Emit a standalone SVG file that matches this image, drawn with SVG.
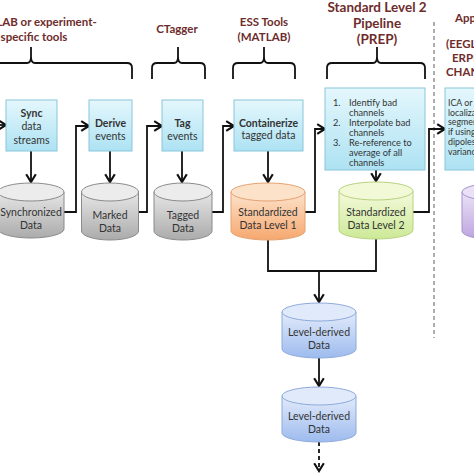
<svg xmlns="http://www.w3.org/2000/svg" width="474" height="474" viewBox="0 0 474 474">
<defs>
<linearGradient id="gBox" x1="0" y1="0" x2="0" y2="1"><stop offset="0" stop-color="#e4f7fc"/><stop offset="1" stop-color="#ade2f3"/></linearGradient>
<linearGradient id="gGray" x1="0" y1="0" x2="0" y2="1"><stop offset="0" stop-color="#e6e6e6"/><stop offset="1" stop-color="#ababab"/></linearGradient>
<linearGradient id="gOrange" x1="0" y1="0" x2="0" y2="1"><stop offset="0" stop-color="#fde3cc"/><stop offset="1" stop-color="#f6a76e"/></linearGradient>
<linearGradient id="gGreen" x1="0" y1="0" x2="0" y2="1"><stop offset="0" stop-color="#f4fadc"/><stop offset="1" stop-color="#cce996"/></linearGradient>
<linearGradient id="gPurple" x1="0" y1="0" x2="0" y2="1"><stop offset="0" stop-color="#ece2f7"/><stop offset="1" stop-color="#bca3de"/></linearGradient>
<linearGradient id="gBlue" x1="0" y1="0" x2="0" y2="1"><stop offset="0" stop-color="#e2ebfb"/><stop offset="1" stop-color="#9dbbee"/></linearGradient>
<marker id="arr" markerUnits="userSpaceOnUse" markerWidth="12" markerHeight="12" viewBox="0 0 10 10" refX="8" refY="5" orient="auto">
<path d="M1.5,1 L8,5 L1.5,9" fill="none" stroke="#111" stroke-width="1.8"/>
</marker>
</defs>
<style>
.hdr{font-family:Lato,"Liberation Sans",sans-serif;font-weight:bold;font-size:11.5px;fill:#6e2c2c;text-anchor:middle}
.hdr2{font-size:13.5px}
.brace{fill:none;stroke:#111;stroke-width:1.8}
.box{fill:url(#gBox);stroke:#8ac6da;stroke-width:1}
.t{font-family:Lato,"Liberation Sans",sans-serif;font-size:10.5px;fill:#333;text-anchor:middle}
.tb{font-weight:bold}
.ts{font-family:Lato,"Liberation Sans",sans-serif;font-size:9.2px;fill:#333}
.ti{font-family:Lato,"Liberation Sans",sans-serif;font-size:8.8px;fill:#333}
.cyl{stroke-width:1}
.conn{fill:none;stroke:#111;stroke-width:1.8}
</style>
<rect width="474" height="474" fill="#fff"/>

<g id="headers">
<text class="hdr" x="34" y="26">MATLAB or experiment-</text>
<text class="hdr" x="34" y="41">specific tools</text>
<text class="hdr" x="177" y="33">CTagger</text>
<text class="hdr" x="264" y="26">ESS Tools</text>
<text class="hdr" x="264" y="41">(MATLAB)</text>
<text class="hdr hdr2" x="377" y="12">Standard Level 2</text>
<text class="hdr hdr2" x="377" y="28">Pipeline</text>
<text class="hdr hdr2" x="377" y="44">(PREP)</text>
<text class="hdr" x="455" y="22" style="text-anchor:start">Applications</text>
<text class="hdr" x="446" y="48" style="text-anchor:start">(EEGLAB,</text>
<text class="hdr" x="452" y="62" style="text-anchor:start">ERPLAB,</text>
<text class="hdr" x="446" y="76" style="text-anchor:start">CHANNEL)</text>
</g>

<g id="braces">
<path class="brace" d="M-12,79 V68 Q-12,63 -7,63 H27 Q31,63 31,57 V47 M31,57 Q31,63 35,63 H127 Q132,63 132,68 V79"/>
<path class="brace" d="M152,79 V68 Q152,63 157,63 H174 Q178,63 178,57 V47 M178,57 Q178,63 182,63 H200 Q205,63 205,68 V79"/>
<path class="brace" d="M233,79 V68 Q233,63 238,63 H260 Q264,63 264,57 V47 M264,57 Q264,63 268,63 H290 Q295,63 295,68 V79"/>
<path class="brace" d="M327,79 V68 Q327,63 332,63 H373 Q377,63 377,57 V47 M377,57 Q377,63 381,63 H420 Q425,63 425,68 V79"/>
</g>

<line id="divider" x1="434" y1="22" x2="434" y2="338" stroke="#777" stroke-width="1.2" stroke-dasharray="4,3"/>

<g id="connectors">
<line class="conn" x1="-2" y1="125" x2="6" y2="125" marker-end="url(#arr)"/>
<line class="conn" x1="31" y1="151" x2="31" y2="182" marker-end="url(#arr)"/>
<polyline class="conn" points="64,212 76,212 76,126 89,126" marker-end="url(#arr)"/>
<line class="conn" x1="110" y1="151" x2="110" y2="182" marker-end="url(#arr)"/>
<polyline class="conn" points="139,212 147,212 147,126 162,126" marker-end="url(#arr)"/>
<line class="conn" x1="182" y1="151" x2="182" y2="182" marker-end="url(#arr)"/>
<polyline class="conn" points="212,212 223,212 223,126 234,126" marker-end="url(#arr)"/>
<line class="conn" x1="268" y1="151" x2="268" y2="182" marker-end="url(#arr)"/>
<polyline class="conn" points="305,212 315,212 315,129 325,129" marker-end="url(#arr)"/>
<line class="conn" x1="376" y1="170" x2="376" y2="181" marker-end="url(#arr)"/>
<polyline class="conn" points="413,212 429,212 429,129 445,129" marker-end="url(#arr)"/>
<polyline class="conn" points="268,240 268,271 376,271 376,239"/>
<line class="conn" x1="319" y1="271" x2="319" y2="302" marker-end="url(#arr)"/>
<line class="conn" x1="319" y1="358" x2="319" y2="386" marker-end="url(#arr)"/>
<line class="conn" x1="319" y1="442" x2="319" y2="471" stroke-dasharray="4,3" marker-end="url(#arr)"/>
</g>

<g id="sync">
<rect class="box" x="6" y="100" width="51" height="51"/>
<text class="t tb" x="31.5" y="117">Sync</text>
<text class="t" x="31.5" y="130">data</text>
<text class="t" x="31.5" y="144">streams</text>
</g>
<g id="derive">
<rect class="box" x="89" y="100" width="43" height="51"/>
<text class="t tb" x="110.5" y="127">Derive</text>
<text class="t" x="110.5" y="140">events</text>
</g>
<g id="tag">
<rect class="box" x="162" y="100" width="41" height="51"/>
<text class="t tb" x="182.5" y="127">Tag</text>
<text class="t" x="182.5" y="140">events</text>
</g>
<g id="containerize">
<rect class="box" x="234" y="100" width="69" height="51"/>
<text class="t tb" x="268.5" y="127">Containerize</text>
<text class="t" x="268.5" y="139">tagged data</text>
</g>
<g id="prep">
<rect class="box" x="325" y="88" width="100" height="82"/>
<text class="ts" x="333" y="106">1.</text><text class="ts" x="349" y="106">Identify bad</text>
<text class="ts" x="349" y="116">channels</text>
<text class="ts" x="333" y="126">2.</text><text class="ts" x="349" y="126">Interpolate bad</text>
<text class="ts" x="349" y="136">channels</text>
<text class="ts" x="333" y="146">3.</text><text class="ts" x="349" y="146">Re-reference to</text>
<text class="ts" x="349" y="156">average of all</text>
<text class="ts" x="349" y="166">channels</text>
</g>
<g id="ica">
<rect class="box" x="445" y="88" width="60" height="82"/>
<text class="ti" x="448" y="106">ICA or source</text>
<text class="ti" x="448" y="115.7">localization</text>
<text class="ti" x="448" y="125.4">segmentation</text>
<text class="ti" x="448" y="135.1">if using</text>
<text class="ti" x="448" y="144.8">dipoles</text>
<text class="ti" x="448" y="154.5">variance</text>
</g>

<g id="synchronized-data">
<path class="cyl" d="M-2,192 V229 A33,9 0 0 0 64,229 V192 Z" fill="url(#gGray)" stroke="#8a8a8a"/>
<ellipse cx="31" cy="192" rx="33" ry="9" fill="#ececec" stroke="#8a8a8a"/>
<text class="t" x="31" y="216">Synchronized</text>
<text class="t" x="31" y="229">Data</text>
</g>
<g id="marked-data">
<path class="cyl" d="M81.5,192 V231 A28.5,9 0 0 0 138.5,231 V192 Z" fill="url(#gGray)" stroke="#8a8a8a"/>
<ellipse cx="110" cy="192" rx="28.5" ry="9" fill="#ececec" stroke="#8a8a8a"/>
<text class="t" x="110" y="219">Marked</text>
<text class="t" x="110" y="232">Data</text>
</g>
<g id="tagged-data">
<path class="cyl" d="M154,192 V231 A29,9 0 0 0 212,231 V192 Z" fill="url(#gGray)" stroke="#8a8a8a"/>
<ellipse cx="183" cy="192" rx="29" ry="9" fill="#ececec" stroke="#8a8a8a"/>
<text class="t" x="183" y="219">Tagged</text>
<text class="t" x="183" y="232">Data</text>
</g>
<g id="standardized-1">
<path class="cyl" d="M231,192 V231 A37,9 0 0 0 305,231 V192 Z" fill="url(#gOrange)" stroke="#e2a273"/>
<ellipse cx="268" cy="192" rx="37" ry="9" fill="#fde2ca" stroke="#e2a273"/>
<text class="t" x="268" y="216">Standardized</text>
<text class="t" x="268" y="229">Data Level 1</text>
</g>
<g id="standardized-2">
<path class="cyl" d="M339,191 V230 A37,9 0 0 0 413,230 V191 Z" fill="url(#gGreen)" stroke="#b8d27f"/>
<ellipse cx="376" cy="191" rx="37" ry="9" fill="#f1f9d6" stroke="#b8d27f"/>
<text class="t" x="376" y="216">Standardized</text>
<text class="t" x="376" y="229">Data Level 2</text>
</g>
<g id="app-data">
<path class="cyl" d="M462,192 V231 A37,9 0 0 0 536,231 V192 Z" fill="url(#gPurple)" stroke="#a792cc"/>
<ellipse cx="499" cy="192" rx="37" ry="9" fill="#ebe1f6" stroke="#a792cc"/>
</g>
<g id="level-derived-1">
<path class="cyl" d="M282,312 V349 A37,9 0 0 0 356,349 V312 Z" fill="url(#gBlue)" stroke="#8eaadb"/>
<ellipse cx="319" cy="312" rx="37" ry="9" fill="#e0eafb" stroke="#8eaadb"/>
<text class="t" x="319" y="336">Level-derived</text>
<text class="t" x="319" y="349">Data</text>
</g>
<g id="level-derived-2">
<path class="cyl" d="M282,396 V433 A37,9 0 0 0 356,433 V396 Z" fill="url(#gBlue)" stroke="#8eaadb"/>
<ellipse cx="319" cy="396" rx="37" ry="9" fill="#e0eafb" stroke="#8eaadb"/>
<text class="t" x="319" y="420">Level-derived</text>
<text class="t" x="319" y="433">Data</text>
</g>
</svg>
